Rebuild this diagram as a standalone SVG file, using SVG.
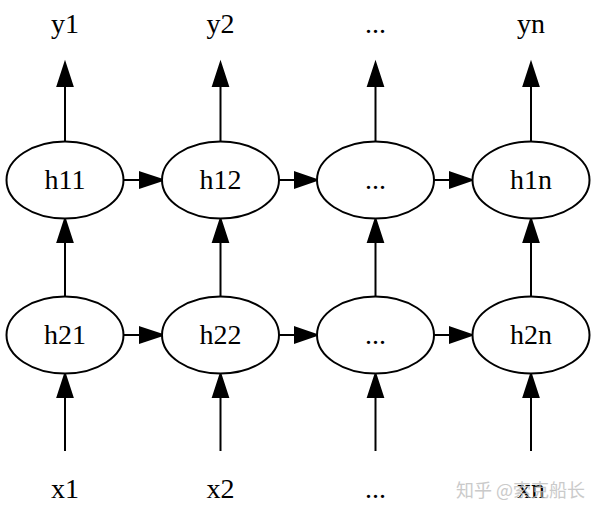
<svg xmlns="http://www.w3.org/2000/svg" width="600" height="513" viewBox="0 0 600 513">
<defs>
<style>
.n ellipse{fill:#fff;stroke:#000;stroke-width:2}
text{font-family:"Liberation Serif","Times New Roman",serif;font-size:28px;fill:#000;text-anchor:middle}
.e line{stroke:#000;stroke-width:2}
.e polygon{fill:#000;stroke:#000;stroke-width:2}
.wm{font-family:"Noto Sans CJK SC","Noto Sans",sans-serif;font-size:18px;fill:#bdbdbd;text-anchor:start;opacity:0.8}
</style>
</defs>
<rect width="600" height="513" fill="#fff"/>
<g id="connectors" class="e">
<!-- h1 -> y -->
<line x1="65" y1="141" x2="65" y2="86"/><polygon points="57.5,86 65,63 72.5,86"/>
<line x1="220.5" y1="141" x2="220.5" y2="86"/><polygon points="213,86 220.5,63 228,86"/>
<line x1="375.5" y1="141" x2="375.5" y2="86"/><polygon points="368,86 375.5,63 383,86"/>
<line x1="531" y1="141" x2="531" y2="86"/><polygon points="523.5,86 531,63 538.5,86"/>
<!-- h2 -> h1 -->
<line x1="65" y1="296" x2="65" y2="242"/><polygon points="57.5,242 65,219 72.5,242"/>
<line x1="220.5" y1="296" x2="220.5" y2="242"/><polygon points="213,242 220.5,219 228,242"/>
<line x1="375.5" y1="296" x2="375.5" y2="242"/><polygon points="368,242 375.5,219 383,242"/>
<line x1="531" y1="296" x2="531" y2="242"/><polygon points="523.5,242 531,219 538.5,242"/>
<!-- x -> h2 -->
<line x1="65" y1="451" x2="65" y2="397"/><polygon points="57.5,397 65,374 72.5,397"/>
<line x1="220.5" y1="451" x2="220.5" y2="397"/><polygon points="213,397 220.5,374 228,397"/>
<line x1="375.5" y1="451" x2="375.5" y2="397"/><polygon points="368,397 375.5,374 383,397"/>
<line x1="531" y1="451" x2="531" y2="397"/><polygon points="523.5,397 531,374 538.5,397"/>
<!-- horizontal row 1 -->
<line x1="124" y1="180" x2="140" y2="180"/><polygon points="140,172.5 163,180 140,187.5"/>
<line x1="279" y1="180" x2="295" y2="180"/><polygon points="295,172.5 317,180 295,187.5"/>
<line x1="434" y1="180" x2="450" y2="180"/><polygon points="450,172.5 472,180 450,187.5"/>
<!-- horizontal row 2 -->
<line x1="124" y1="335" x2="140" y2="335"/><polygon points="140,327.5 163,335 140,342.5"/>
<line x1="279" y1="335" x2="295" y2="335"/><polygon points="295,327.5 317,335 295,342.5"/>
<line x1="434" y1="335" x2="450" y2="335"/><polygon points="450,327.5 472,335 450,342.5"/>
</g>
<g id="y1"><text x="65" y="33">y1</text></g>
<g id="y2"><text x="220.5" y="33">y2</text></g>
<g id="y3"><text x="375.5" y="33">...</text></g>
<g id="yn"><text x="531" y="33">yn</text></g>
<g id="h11" class="n"><ellipse cx="65" cy="180" rx="58.5" ry="38.5"/><text x="65" y="189">h11</text></g>
<g id="h12" class="n"><ellipse cx="220.5" cy="180" rx="58.5" ry="38.5"/><text x="220.5" y="189">h12</text></g>
<g id="h13" class="n"><ellipse cx="375.5" cy="180" rx="58.5" ry="38.5"/><text x="375.5" y="189">...</text></g>
<g id="h1n" class="n"><ellipse cx="531" cy="180" rx="58.5" ry="38.5"/><text x="531" y="189">h1n</text></g>
<g id="h21" class="n"><ellipse cx="65" cy="335" rx="58.5" ry="38.5"/><text x="65" y="344">h21</text></g>
<g id="h22" class="n"><ellipse cx="220.5" cy="335" rx="58.5" ry="38.5"/><text x="220.5" y="344">h22</text></g>
<g id="h23" class="n"><ellipse cx="375.5" cy="335" rx="58.5" ry="38.5"/><text x="375.5" y="344">...</text></g>
<g id="h2n" class="n"><ellipse cx="531" cy="335" rx="58.5" ry="38.5"/><text x="531" y="344">h2n</text></g>
<g id="x1"><text x="65" y="498">x1</text></g>
<g id="x2"><text x="220.5" y="498">x2</text></g>
<g id="x3"><text x="375.5" y="498">...</text></g>
<g id="xn"><text x="531" y="498">xn</text></g>
<text class="wm" x="456" y="497">知乎 @索克船长</text>
</svg>
